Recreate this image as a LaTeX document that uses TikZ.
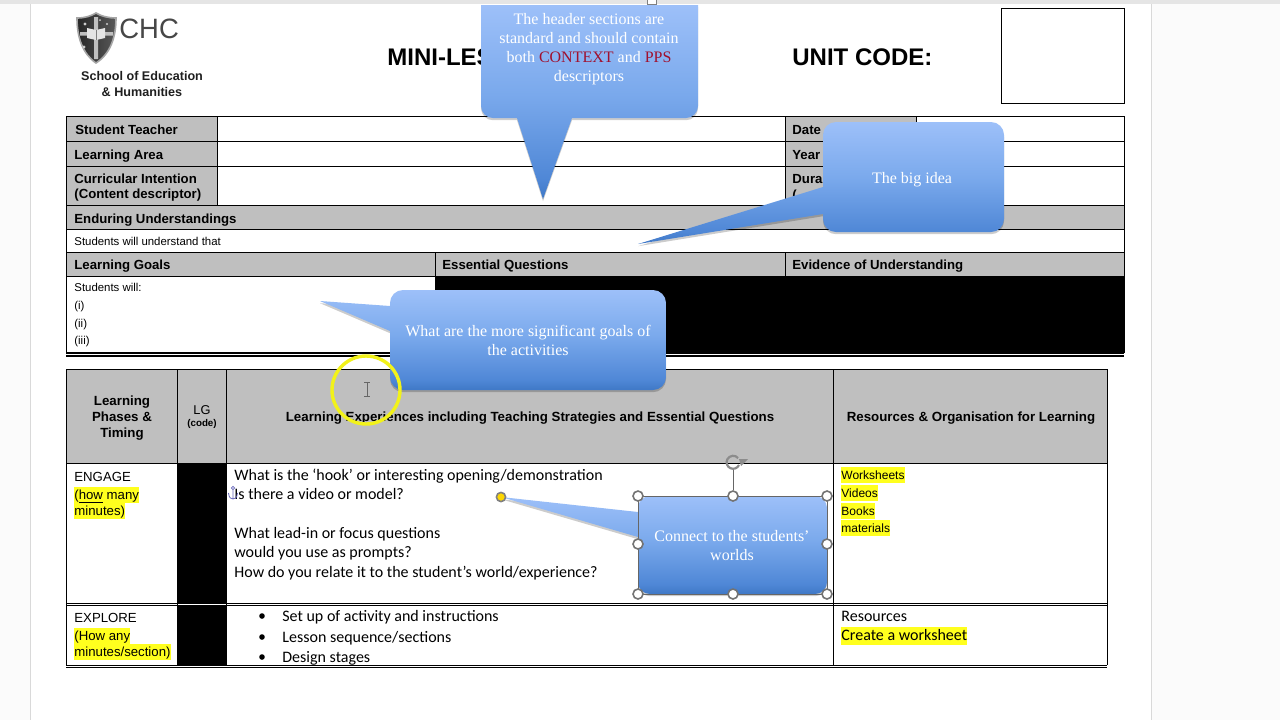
\documentclass[tikz,border=0pt]{standalone}
\usepackage{fontspec}
\setmainfont{Liberation Sans}
\newfontfamily\serifcall{Liberation Serif}
\newfontfamily\bodyfont{Carlito}
\usetikzlibrary{shadows}
\definecolor{cellgrey}{HTML}{BFBFBF}
\definecolor{markyellow}{HTML}{FFFF1E}
\definecolor{bubbletop}{HTML}{9DC0F9}
\definecolor{bubblemid}{HTML}{7AA9EC}
\definecolor{bubblelow}{HTML}{4F87D6}
\definecolor{bubbleend}{HTML}{3F78C6}
\definecolor{darkred}{HTML}{A0102E}
\definecolor{ringyellow}{HTML}{F2F21A}
\pgfdeclareverticalshading{bubbleshade}{100bp}{color(0bp)=(bubbleend);color(25bp)=(bubbleend);color(30bp)=(bubblelow);color(52bp)=(bubblemid);color(75bp)=(bubbletop);color(100bp)=(bubbletop)}
\tikzset{
  tabline/.style={line width=0.45pt,black},
  labelb/.style={anchor=base west,inner sep=0pt,font=\fontsize{6.6}{7.9}\selectfont\bfseries,align=left},
  labelc/.style={inner sep=0pt,font=\fontsize{6.65}{7.9}\selectfont\bfseries,align=center},
  plainl/.style={anchor=base west,inner sep=0pt,font=\fontsize{5.7}{6.5}\selectfont},
  phase/.style={anchor=base west,inner sep=0pt,font=\fontsize{6.6}{8}\selectfont},
  bodyl/.style={anchor=base west,inner sep=0pt,font=\bodyfont\fontsize{8}{9}\selectfont},
  marked/.style={anchor=base west,inner xsep=0pt,inner ysep=0.6pt,fill=markyellow,text height=5.2pt,text depth=1.4pt},
  reslist/.style={marked,font=\fontsize{6}{7}\selectfont},
  bubble/.style={shading=bubbleshade,
    drop shadow={fill=black,opacity=.2,shadow xshift=0pt,shadow yshift=-1.1pt}},
  bubbletext/.style={inner sep=0pt,text=white,align=center,font=\serifcall\fontsize{8}{9.5}\selectfont},
  handle/.style={circle,draw=black!55,fill=white,line width=0.8pt,minimum size=5pt,inner sep=0pt},
}
\begin{document}
\begin{tikzpicture}[x=0.5pt,y=-0.5pt]
  \useasboundingbox (0,0) rectangle (1280,720);
  % window and page
  \fill[black!1.5] (0,0) rectangle (1280,720);
  \fill[white] (30,4) rectangle (1151,720);
  \draw[black!15,line width=0.5pt] (30,4) -- (30,720) (1151,4) -- (1151,720);
  \fill[black!10] (0,0) rectangle (1280,4);
  \draw[black!50,fill=white,line width=0.4pt] (647,-1) rectangle (656,4);

  % logo
  \path[left color=black!85,right color=black!65,draw=black!35,line width=0.8pt]
    (77,18) .. controls (85,18) and (91,16) .. (96,13) .. controls (101,16) and (108,18) .. (116,18)
    .. controls (116,38) and (110,54) .. (96,63) .. controls (83,54) and (77,38) .. (77,18) -- cycle;
  \fill[black!25] (94,17) rectangle (98,59) (80,32) rectangle (113,35.5);
  \fill[white!90!black] (87,28) -- (96,30) -- (105,28) -- (105,38) -- (96,40) -- (87,38) -- cycle;
  \draw[black!50,line width=0.3pt] (96,30) -- (96,40);
  \fill[white!80!black] (85,24) circle (1.6) (107,24) circle (1.2) (84,47) circle (1.6) (100,20) circle (1);
  \node[inner sep=0pt,text=black!72,anchor=west,xscale=.98,font=\fontsize{14}{15}\selectfont] (logoname) at (119,28.5) {CHC};
  \node[inner sep=0pt,align=center,font=\fontsize{6.3}{8}\selectfont\bfseries,text=black!88] (school) at (142,84) {School of Education\\\& Humanities};

  % title row
  \node[anchor=west,inner sep=0pt,font=\fontsize{12}{14}\selectfont\bfseries] (minititle) at (387,57) {MINI-LES};
  \node[anchor=west,inner sep=0pt,font=\fontsize{12}{14}\selectfont\bfseries] (unitcode) at (792,57) {UNIT CODE:};
  \draw[tabline] (1001,8) rectangle (1124,103);

  % top table
  \fill[cellgrey] (66,116) rectangle (217,205) (785,116) rectangle (916,205)
    (66,205) rectangle (1124,229) (66,252) rectangle (1124,276);
  \fill[black] (435,276) rectangle (1124,352);
  \draw[tabline] (66,116) rectangle (1124,352);
  \foreach \rowy in {141,166,205,229,252,276}
    \draw[tabline] (66,\rowy) -- (1124,\rowy);
  \draw[tabline] (217,116) -- (217,205) (785,116) -- (785,205) (916,116) -- (916,141)
    (435,252) -- (435,276) (785,252) -- (785,276);
  \draw[black,line width=1pt] (66,352.5) -- (1124,352.5);
  \draw[black,line width=0.6pt] (66,356) -- (1124,356);

  \node[labelb] (lblteacher) at (75,134) {Student Teacher};
  \node[labelb] (lblarea) at (74,159) {Learning Area};
  \node[labelb,anchor=west] (lblintent) at (74,187.5) {Curricular Intention\\(Content descriptor)};
  \node[labelb] (lblunder) at (74,223) {Enduring Understandings};
  \node[plainl] (lblstudents) at (74,245) {Students will understand that};
  \node[labelb] (lblgoals) at (74,269) {Learning Goals};
  \node[labelb] (lblessential) at (442,269) {Essential Questions};
  \node[labelb] (lblevidence) at (792,269) {Evidence of Understanding};
  \node[labelb] (lbldate) at (792,134) {Date};
  \node[labelb] (lblyear) at (792,159) {Year};
  \node[labelb] (lbldura) at (792,183) {Dura};
  \node[labelb] (lbldurb) at (792,199) {(};
  \node[plainl] (goalhead) at (74,291) {Students will:};
  \node[plainl] (goali) at (74,309) {(i)};
  \node[plainl] (goalii) at (74,327) {(ii)};
  \node[plainl] (goaliii) at (74,344) {(iii)};

  % lower table
  \fill[cellgrey] (66,369) rectangle (1107,463);
  \fill[black] (177,463) rectangle (226,603) (177,605) rectangle (226,665);
  \draw[tabline] (66,369) -- (1107,369) (66,463) -- (1107,463);
  \draw[black,line width=0.35pt] (66,603) -- (1107,603) (66,605.5) -- (1107,605.5) (66,665) -- (1107,665) (66,667.5) -- (1107,667.5);
  \foreach \colx in {66,177,226,833,1107}
    \draw[tabline] (\colx,369) -- (\colx,665);

  \node[labelc] (headphase) at (122,418) {Learning\\Phases \&\\Timing};
  \node[inner sep=0pt,font=\fontsize{6.4}{8}\selectfont] (headlg) at (202,410) {LG};
  \node[inner sep=0pt,font=\fontsize{4.9}{6}\selectfont\bfseries] (headcode) at (202,424) {(code)};
  \node[labelc] (headlearn) at (530,418) {Learning Experiences including Teaching Strategies and Essential Questions};
  \node[labelc] (headres) at (971,418) {Resources \& Organisation for Learning};

  \node[phase] (engage) at (74,481) {ENGAGE};
  \node[phase,marked] (howmany) at (74,499) {(\underline{how} many};
  \node[phase,marked] (howmin) at (74,515) {minutes)};
  \node[phase] (explore) at (74,622) {EXPLORE};
  \node[phase,marked] (howany) at (74,640) {(How any};
  \node[phase,marked] (howsec) at (74,656) {minutes/section)};

  \node[bodyl] (hook) at (234,480) {What is the ‘hook’ or interesting opening/demonstration};
  \node[bodyl] (video) at (234,499) {Is there a video or model?};
  \node[bodyl] (leadin) at (234,538) {What lead-in or focus questions};
  \node[bodyl] (prompts) at (234,557) {would you use as prompts?};
  \node[bodyl] (relate) at (234,577) {How do you relate it to the student’s world/experience?};
  \foreach \name/\liney/\txt in {setup/616/Set up of activity and instructions,sequence/637/Lesson sequence\slash sections,stages/657/Design stages}{
    \fill[black] (262,\liney) circle (2.8);
    \node[bodyl] (\name) at (282,\liney+5) {\txt};
  }
  \node[reslist] (reswork) at (841,479) {Worksheets};
  \node[reslist] (resvid) at (841,497) {Videos};
  \node[reslist] (resbook) at (841,515) {Books};
  \node[reslist] (resmat) at (841,532) {materials};
  \node[bodyl] (resources) at (841,621) {Resources};
  \node[bodyl,fill=markyellow,inner xsep=0pt,inner ysep=0.8pt,text height=5.8pt,text depth=1.6pt] (createws) at (841,640) {Create a worksheet};

  % anchor mark
  \draw[black!45!blue!60!white,line width=0.4pt] (233,488) circle (1.6) (233,490) -- (233,499) (228.5,493) .. controls (229,498) and (231,499) .. (233,499) .. controls (235,499) and (237,498) .. (237.5,493);

  % callouts
  \path[bubble] (572,118) -- (543,199) -- (517,118) [rounded corners=6pt] -- (481,118) [sharp corners] -- (481,5) -- (698,5) [rounded corners=6pt] -- (698,118) [sharp corners] -- cycle;
  \node[bubbletext] (bubbleheader) at (589,49) {The header sections are\\standard and should contain\\both \textcolor{darkred}{CONTEXT} and \textcolor{darkred}{PPS}\\descriptors};
  \path[bubble] (823,187) -- (638,244) -- (823,214) [rounded corners=6.5pt] -- (823,232) -- (1004,232) -- (1004,122) -- (823,122) [sharp corners] -- cycle;
  \node[bubbletext] (bubbleidea) at (912,180) {The big idea};
  \path[bubble] (390,306) -- (320,301) -- (390,331) [rounded corners=6.5pt] -- (390,390) -- (666,390) -- (666,290) -- (390,290) [sharp corners] -- cycle;
  \node[bubbletext] (bubblegoals) at (528,340.5) {What are the more significant goals of\\the activities};
  \path[bubble] (638,512) -- (501,497) -- (638,537) [rounded corners=6pt] -- (638,594) -- (827,594) -- (827,496) -- (638,496) [sharp corners] -- cycle;
  \node[bubbletext] (bubbleworlds) at (732,545.5) {Connect to the students’\\worlds};

  % selection handles on the last callout
  \draw[black!60,line width=0.4pt] (638,496) rectangle (827,594);
  \foreach \hname/\hx/\hy in {hnw/638/496,hn/733/496,hne/827/496,hw/638/544,he/827/544,hsw/638/594,hs/733/594,hse/827/594}
    \node[handle] (\hname) at (\hx,\hy) {};
  \node[inner sep=0pt,minimum size=7pt] (hrot) at (733,462) {};
  \draw[black!60,line width=0.4pt] (hrot) -- (hn);
  \draw[black!45,line width=1.1pt] (739,465) arc[start angle=25,end angle=320,radius=6.5];
  \fill[black!45] (739,459) -- (748,459) -- (741,466) -- cycle;
  \node[handle,fill=yellow!75!orange,draw=black!50,minimum size=4.6pt] (htip) at (501,497) {};

  % pointer ring and text cursor
  \draw[ringyellow,line width=1.7pt] (366,390) circle (34);
  \draw[black!60,line width=0.35pt] (364,382) -- (370,382) (367,382) -- (367,396) (364,396) -- (370,396);
\end{tikzpicture}
\end{document}
